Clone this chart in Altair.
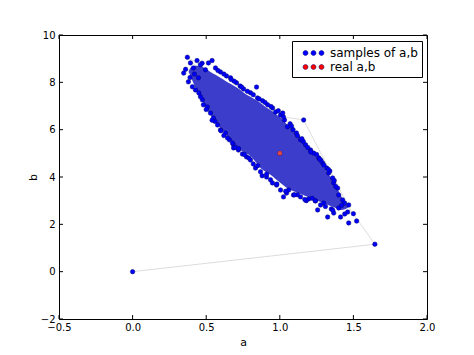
import altair as alt
import pandas as pd

# ---- data ----
x_ticks = [-0.5, 0.0, 0.5, 1.0, 1.5, 2.0]
y_ticks = [-2, 0, 2, 4, 6, 8, 10]

# dense core of the sample cloud (upper / lower edge of solid region)
body_a = [0.38, 0.393, 0.427, 0.461, 0.495, 0.529, 0.563, 0.597, 0.631, 0.665, 0.699,
          0.733, 0.767, 0.801, 0.835, 0.869, 0.903, 0.937, 0.971, 1.005, 1.039, 1.073,
          1.107, 1.141, 1.175, 1.209, 1.243, 1.277, 1.311, 1.345, 1.379, 1.413, 1.447, 1.465]
body_upper = [8.45, 8.61, 8.70, 8.70, 8.57, 8.44, 8.32, 8.19, 8.06, 7.94, 7.81,
              7.68, 7.51, 7.39, 7.26, 7.13, 6.96, 6.83, 6.67, 6.50, 6.28, 6.07,
              5.91, 5.69, 5.44, 5.14, 4.89, 4.59, 4.30, 4.00, 3.66, 3.24, 2.86, 2.74]
body_lower = [8.45, 8.27, 7.77, 7.39, 7.00, 6.62, 6.33, 6.07, 5.82, 5.57, 5.36,
              5.14, 5.01, 4.89, 4.64, 4.38, 4.22, 4.09, 3.92, 3.75, 3.58, 3.45,
              3.37, 3.28, 3.20, 3.11, 3.03, 2.94, 2.86, 2.77, 2.69, 2.61, 2.65, 2.72]

# individual samples visible on the rim of the cloud and outside it
sample_a = [0.0, 1.646,
            0.372, 0.438, 0.540, 0.472, 0.347, 0.461, 0.393, 0.413, 0.379, 0.406, 0.427,
            0.474, 0.481, 0.447, 0.495, 0.515, 0.563, 0.597, 0.638, 0.36, 0.42, 0.39,
            0.665, 0.706, 0.754, 0.801, 0.848, 0.883, 0.917, 0.951, 0.971, 1.005, 1.032,
            1.052, 0.842, 1.162, 1.025, 1.113, 1.141, 1.175, 1.209, 1.230, 1.264, 1.291,
            1.318, 1.332, 1.359, 1.366, 1.393, 1.400, 1.427,
            0.62, 0.69, 0.73, 0.78, 0.82, 0.90, 0.94, 1.07, 1.09, 1.12, 1.16, 1.19, 1.25,
            1.28, 1.30, 1.34, 1.37, 1.38,
            1.468, 1.461, 1.468, 1.522, 1.413, 1.366, 1.325, 1.257, 1.277, 1.400, 1.441,
            1.44, 1.50, 1.35,
            1.298, 1.243, 1.196, 1.141, 1.093, 1.046, 1.005, 1.025, 0.978, 0.937, 0.910,
            0.869, 0.835, 0.801, 0.774, 0.746, 0.719, 0.685, 0.658, 0.631, 0.597, 0.577,
            0.549, 0.529, 0.508, 0.461, 0.645, 0.686, 0.678,
            0.45, 0.50, 0.56, 0.62, 0.70, 0.76, 0.82, 0.88, 0.95, 1.06, 1.12, 1.18, 1.22, 1.31,
            0.58, 0.67, 0.74, 0.86, 0.99, 1.02, 1.08, 1.15, 1.21, 1.27, 1.33,
            0.54, 0.60, 0.72, 0.79, 0.85, 0.91, 0.98, 1.04, 1.10, 1.17, 1.24, 1.36, 1.42]
sample_b = [0.0, 1.16,
            9.06, 8.92, 8.92, 8.81, 8.39, 8.74, 8.82, 8.61, 8.02, 7.81, 7.68,
            7.26, 7.05, 8.19, 8.53, 8.82, 8.61, 8.44, 8.27, 8.55, 8.35, 8.20,
            8.19, 7.98, 7.72, 7.56, 7.34, 7.22, 7.05, 6.92, 6.75, 6.62, 6.41,
            6.12, 7.80, 6.41, 6.54, 5.86, 5.57, 5.36, 5.14, 5.01, 4.81, 4.59,
            4.38, 4.17, 3.96, 3.75, 3.53, 3.24, 3.03,
            8.35, 8.05, 7.85, 7.62, 7.48, 7.15, 6.98, 6.25, 6.00, 5.75, 5.50, 5.25, 4.95,
            4.70, 4.50, 4.25, 3.85, 3.60,
            2.82, 2.52, 2.06, 2.14, 2.31, 2.48, 2.31, 2.61, 2.82, 2.69, 2.44,
            2.90, 2.45, 2.65,
            2.90, 2.99, 3.07, 3.16, 3.24, 3.32, 3.45, 3.16, 3.66, 3.88, 4.00,
            4.22, 4.38, 4.72, 4.85, 4.97, 5.14, 5.36, 5.57, 5.86, 5.99, 6.20,
            6.49, 6.70, 6.96, 7.39, 5.65, 5.23, 5.44,
            7.55, 6.85, 6.35, 5.75, 5.25, 4.95, 4.55, 4.05, 3.75, 3.45, 3.25, 3.00, 3.10, 2.75,
            8.50, 8.12, 7.80, 7.30, 6.80, 6.70, 6.15, 5.62, 5.06, 4.76, 4.32,
            6.40, 5.95, 5.20, 4.80, 4.48, 4.12, 3.70, 3.40, 3.25, 3.05, 3.00, 2.60, 2.80]

# visible part of the sampler's path (burn-in)
trace_a = [0.0, 1.646, 1.48, 1.162, 1.025, 0.95, 0.80, 0.60, 0.372, 0.461, 0.55, 0.70,
           0.85, 1.0, 1.15, 1.3, 1.427]
trace_b = [0.0, 1.16, 2.6, 6.41, 6.54, 6.1, 6.6, 7.6, 9.06, 8.74, 7.9, 6.8,
           6.0, 5.2, 4.4, 3.5, 3.03]

real_a = [1.0]
real_b = [5.0]

series_names = ["samples of a,b", "real a,b"]

# ---- tables ----
body_df = pd.DataFrame({"a": body_a, "upper": body_upper, "lower": body_lower})
samp_df = pd.DataFrame({"a": sample_a, "b": sample_b, "series": series_names[0]})
real_df = pd.DataFrame({"a": real_a, "b": real_b, "series": series_names[1]})
pts_df = pd.concat([samp_df, real_df], ignore_index=True)
trace_df = pd.DataFrame({"a": trace_a, "b": trace_b, "step": list(range(len(trace_a)))})
xt_df = pd.DataFrame({"a": x_ticks})
yt_df = pd.DataFrame({"b": y_ticks})

W, H = 368, 284
FONT = "DejaVu Sans"

xs = alt.Scale(domain=[-0.5, 2.0], nice=False, zero=False)
ys = alt.Scale(domain=[-2, 10], nice=False, zero=False)

x_axis = alt.Axis(values=x_ticks, format=".1f", title="a", labelPadding=3,
                  titlePadding=4, labelFlush=False, labelOverlap=False)
y_axis = alt.Axis(values=y_ticks, format="d", title="b", labelPadding=4,
                  titlePadding=2, labelFlush=False, labelOverlap=False)

X = alt.X("a:Q", scale=xs, axis=x_axis)
Y = alt.Y("b:Q", scale=ys, axis=y_axis)

trace = alt.Chart(trace_df).mark_line(color="#d3d3d3", strokeWidth=0.8).encode(
    x=X, y=Y, order="step:Q",
)

body = alt.Chart(body_df).mark_area(color="#3d3dcc", opacity=1,
                                    interpolate="monotone").encode(
    x=X,
    y=alt.Y("upper:Q", scale=ys, axis=y_axis),
    y2="lower:Q",
)

dots_path = ("M -0.133 0 A 0.333 0.333 0 1 0 0.533 0 A 0.333 0.333 0 1 0 -0.133 0 Z "
             "M 0.934 0 A 0.333 0.333 0 1 0 1.6 0 A 0.333 0.333 0 1 0 0.934 0 Z "
             "M 2.0 0 A 0.333 0.333 0 1 0 2.666 0 A 0.333 0.333 0 1 0 2.0 0 Z")

points = alt.Chart(pts_df).mark_point(filled=True, shape="circle", size=20, opacity=1,
                                      stroke="#00006a", strokeWidth=0.5).encode(
    x=X, y=Y,
    color=alt.Color("series:N",
                    scale=alt.Scale(domain=series_names, range=["#0000ff", "#ff0000"]),
                    legend=alt.Legend(title=None, orient="none", legendX=233, legendY=6,
                                      symbolType=dots_path, symbolSize=225,
                                      symbolStrokeWidth=0.5,
                                      labelFont=FONT, labelFontSize=12, labelColor="black",
                                      labelOffset=18, padding=4, rowPadding=0,
                                      strokeColor="black", fillColor="white",
                                      cornerRadius=0)),
)

real_overlay = alt.Chart(real_df).mark_point(filled=True, shape="circle", size=20,
                                             opacity=1, color="#d84848").encode(
    x=X, y=Y,
)

tick_bottom = alt.Chart(xt_df).mark_rule(color="black", strokeWidth=1).encode(
    x=X, y=alt.value(H), y2=alt.value(H - 4))
tick_top = alt.Chart(xt_df).mark_rule(color="black", strokeWidth=1).encode(
    x=X, y=alt.value(0), y2=alt.value(4))
tick_left = alt.Chart(yt_df).mark_rule(color="black", strokeWidth=1).encode(
    y=Y, x=alt.value(0), x2=alt.value(4))
tick_right = alt.Chart(yt_df).mark_rule(color="black", strokeWidth=1).encode(
    y=Y, x=alt.value(W), x2=alt.value(W - 4))

chart = alt.layer(
    trace, body, points, real_overlay, tick_bottom, tick_top, tick_left, tick_right
).properties(
    width=W, height=H,
    autosize=alt.AutoSizeParams(type="none"),
    padding={"left": 59, "top": 35, "right": 47, "bottom": 36},
    background="white",
).configure_view(
    stroke="black", strokeWidth=1,
).configure_axis(
    domain=False, ticks=False, grid=False,
    labelFont=FONT, labelFontSize=10, labelColor="black",
    titleFont=FONT, titleFontSize=11, titleFontWeight="normal", titleColor="black",
)

chart.save("out.html", embed_options={"renderer": "svg", "actions": False})
